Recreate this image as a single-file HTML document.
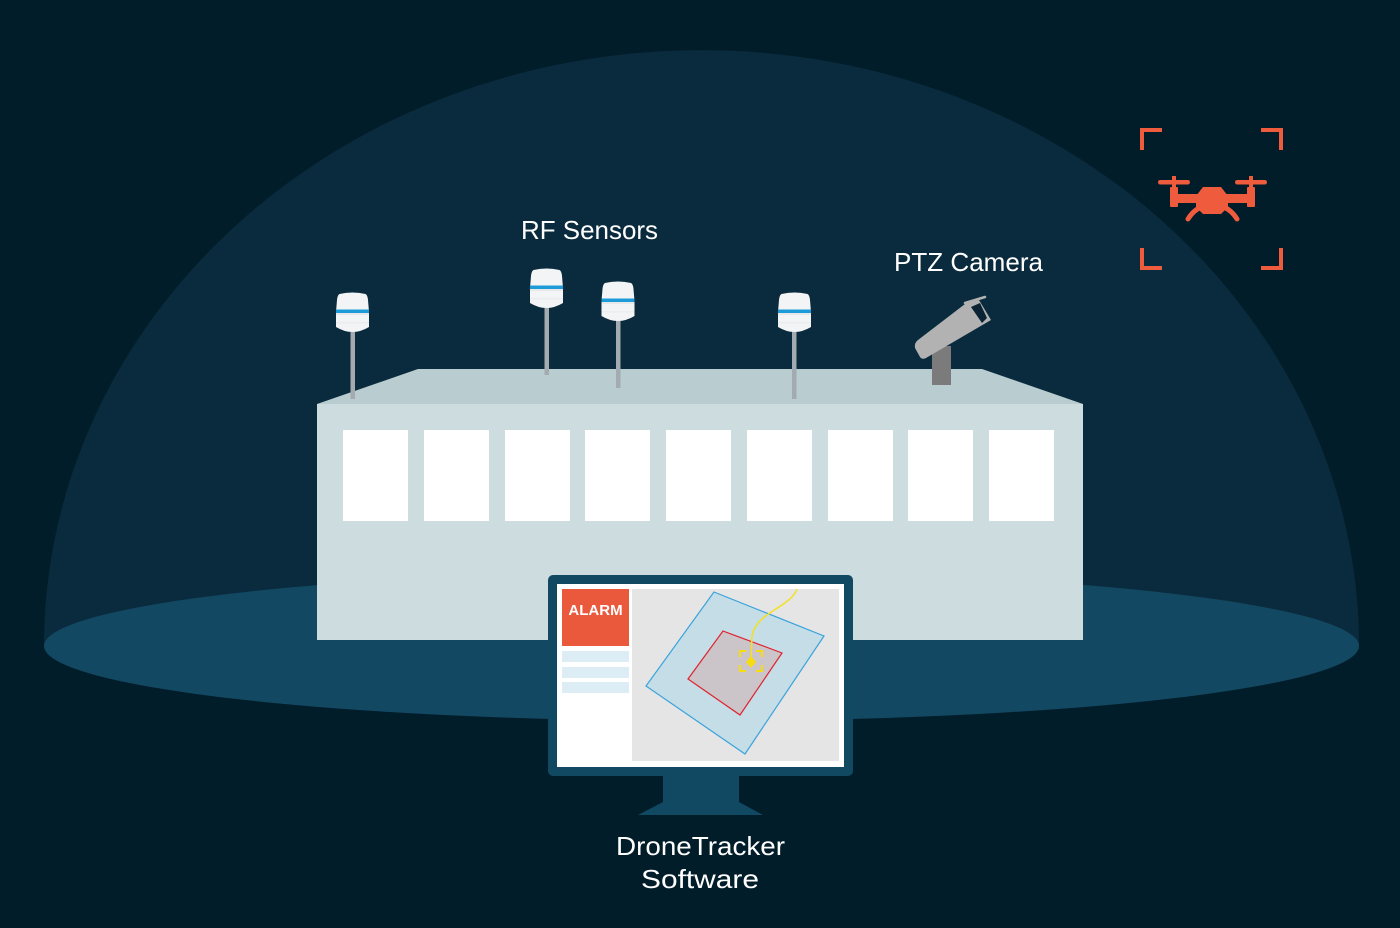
<!DOCTYPE html>
<html><head><meta charset="utf-8"><style>
html,body{margin:0;padding:0;background:#021d2a;}
svg{display:block;}
</style></head><body>
<svg width="1400" height="928" viewBox="0 0 1400 928" xmlns="http://www.w3.org/2000/svg">
<rect width="1400" height="928" fill="#021d2a"/>
<!-- dome -->
<path d="M44,646 A657.5,596 0 0 1 1359,646 Z" fill="#0a2b3d"/>
<!-- floor -->
<ellipse cx="701.5" cy="646" rx="657.5" ry="75" fill="#134862"/>
<!-- building roof -->
<polygon points="418,369 982,369 1083,404 317,404" fill="#b9cdd1"/>
<!-- building front -->
<rect x="317" y="404" width="766" height="236" fill="#cddcdf"/>
<!-- windows -->
<g fill="#ffffff">
<rect x="343" y="430" width="65" height="91"/>
<rect x="424" y="430" width="65" height="91"/>
<rect x="505" y="430" width="65" height="91"/>
<rect x="585" y="430" width="65" height="91"/>
<rect x="666" y="430" width="65" height="91"/>
<rect x="747" y="430" width="65" height="91"/>
<rect x="828" y="430" width="65" height="91"/>
<rect x="908" y="430" width="65" height="91"/>
<rect x="989" y="430" width="65" height="91"/>
</g>
<!-- sensors -->
<g>
<rect x="350.5" y="330" width="4.5" height="69" fill="#a3abb1"/>
<rect x="544.5" y="306" width="4.5" height="69" fill="#a3abb1"/>
<rect x="616" y="319" width="4.5" height="69" fill="#a3abb1"/>
<rect x="792" y="330" width="4.5" height="69" fill="#a3abb1"/>
</g>
<defs>
<g id="head">
<path d="M-13,2 Q0,-1 13,2 Q15,3 15.5,8 L16.5,20 L16.5,35 Q0,45 -16.5,35 L-16.5,20 L-15.5,8 Q-15,3 -13,2 Z" fill="#f3f4f5"/>
<rect x="-16.5" y="21" width="33" height="2" fill="#e6e8ea"/>
<rect x="-16.5" y="17.5" width="33" height="3.5" fill="#1d9ad8"/>
<rect x="-16.5" y="30" width="33" height="1.5" fill="#ebedee"/>
</g>
</defs>
<use href="#head" x="352.5" y="292"/>
<use href="#head" x="546.5" y="268"/>
<use href="#head" x="618" y="281"/>
<use href="#head" x="794.5" y="292"/>
<!-- camera -->
<rect x="932" y="346" width="19" height="39" fill="#7b7b7b"/>
<path d="M918,340 L965,304 L979,300 L991,320 L926,358 Q922,360 920,357 L915,348 Q914,343 918,340 Z" fill="#b2b2b2"/>
<polygon points="971,307 980,303 987,318 982,323" fill="#0a2436"/>
<line x1="965" y1="303" x2="985" y2="297" stroke="#b2b2b2" stroke-width="2.5" stroke-linecap="round"/>
<!-- drone brackets -->
<g fill="none" stroke="#ee5b3d" stroke-width="4">
<path d="M1142,150 L1142,130 L1162,130"/>
<path d="M1261,130 L1281,130 L1281,150"/>
<path d="M1142,248 L1142,268 L1162,268"/>
<path d="M1261,268 L1281,268 L1281,248"/>
</g>
<!-- drone -->
<g fill="#ee5b3d" stroke="none">
<polygon points="1203,187 1221,187 1228,196 1228,207 1221,214 1203,214 1196,207 1196,196"/>
<rect x="1176" y="194" width="72" height="9"/>
<rect x="1170" y="187" width="8" height="20" rx="1"/>
<rect x="1247" y="187" width="8" height="20" rx="1"/>
<rect x="1158" y="180" width="32" height="4.5" rx="2.2"/>
<rect x="1235" y="180" width="32" height="4.5" rx="2.2"/>
<rect x="1172" y="176" width="4" height="11"/>
<rect x="1249" y="176" width="4" height="11"/>
</g>
<g fill="none" stroke="#ee5b3d" stroke-width="5" stroke-linecap="round">
<path d="M1188,219 Q1196,206 1210,205"/>
<path d="M1237,219 Q1229,206 1215,205"/>
</g>
<!-- monitor -->
<polygon points="663,770 739,770 739,802 763,815 638,815 663,802" fill="#114862"/>
<rect x="548" y="575" width="305" height="201" rx="5" fill="#114862"/>
<rect x="557" y="584" width="287" height="183" fill="#ffffff"/>
<rect x="632" y="589" width="207" height="172" fill="#e5e5e5"/>
<rect x="562" y="589" width="67" height="57" fill="#eb593d"/>
<text x="595.5" y="615" font-family="'Liberation Sans',sans-serif" font-size="15" font-weight="bold" fill="#ffffff" text-anchor="middle">ALARM</text>
<rect x="562" y="651" width="67" height="11" fill="#ddedf6"/>
<rect x="562" y="667" width="67" height="11" fill="#ddedf6"/>
<rect x="562" y="682" width="67" height="11" fill="#ddedf6"/>
<polygon points="714,592 824,636 745,754 646,686" fill="#c5dde6" stroke="#3ba3dc" stroke-width="1.2"/>
<polygon points="723,631 782,653 740,715 688,679" fill="#cbc4c8" stroke="#e0222e" stroke-width="1.2"/>
<path d="M797,589 C790,608 756,612 752,636 L751,660" fill="none" stroke="#f4e022" stroke-width="1.5"/>
<g fill="none" stroke="#f7dd10" stroke-width="2">
<path d="M740,657 L740,651 L746,651"/>
<path d="M756,651 L762,651 L762,657"/>
<path d="M740,665 L740,671 L746,671"/>
<path d="M756,671 L762,671 L762,665"/>
</g>
<polygon points="751,656 756,662 751,668 746,662" fill="#f7dd10"/>
<!-- labels -->
<g font-family="'Liberation Sans',sans-serif" fill="#ffffff" font-size="26">
<text x="521" y="239" textLength="137" lengthAdjust="spacingAndGlyphs">RF Sensors</text>
<text x="894" y="271" textLength="149" lengthAdjust="spacingAndGlyphs">PTZ Camera</text>
<text x="616" y="855" textLength="169" lengthAdjust="spacingAndGlyphs">DroneTracker</text>
<text x="641" y="888" textLength="118" lengthAdjust="spacingAndGlyphs">Software</text>
</g>
</svg>
</body></html>
